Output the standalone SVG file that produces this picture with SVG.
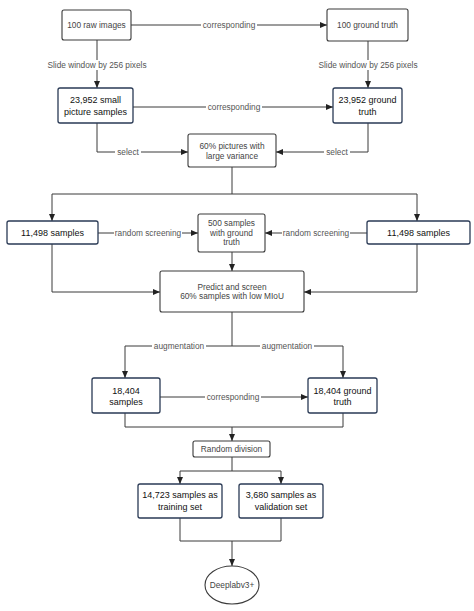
<svg xmlns="http://www.w3.org/2000/svg" width="474" height="611" viewBox="0 0 474 611">
<style>
.g{fill:#fff;stroke:#3a3a3a;stroke-width:1.1}
.b{fill:#fff;stroke:#2a3a55;stroke-width:1.3}
.gt{font-family:"Liberation Sans",Arial,sans-serif;font-size:8.3px;fill:#444;text-anchor:middle;dominant-baseline:central}
.bt{font-family:"Liberation Sans",Arial,sans-serif;font-size:9px;fill:#111;text-anchor:middle;dominant-baseline:central}
.c{fill:none;stroke:#3a3a3a;stroke-width:1}
.a{marker-end:url(#ah)}
.lb{fill:#fff}
.lt{font-family:"Liberation Sans",Arial,sans-serif;font-size:8.3px;fill:#555;text-anchor:middle;dominant-baseline:central}
</style>
<defs>
<marker id="ah" markerWidth="7" markerHeight="6" refX="7" refY="3" orient="auto" markerUnits="userSpaceOnUse">
<path d="M0,0 L7,3 L0,6 z" fill="#222"/>
</marker>
</defs>
<rect width="474" height="611" fill="#fff"/>
<g id="connectors">
<path class="c a" d="M131,25 H327"/>
<path class="c a" d="M97,40 V88"/>
<path class="c a" d="M368,41 V88"/>
<path class="c a" d="M133,107 H333"/>
<path class="c a" d="M97,123 V152 H188"/>
<path class="c a" d="M368,123 V152 H276"/>
<path class="c" d="M232,167 V194 M52,194 H417"/>
<path class="c a" d="M52,194 V221"/>
<path class="c a" d="M417,194 V221"/>
<path class="c a" d="M98,233 H198"/>
<path class="c a" d="M367,233 H265"/>
<path class="c a" d="M232,252 V271"/>
<path class="c a" d="M52,244 V292 H160"/>
<path class="c a" d="M417,244 V292 H304"/>
<path class="c" d="M232,312 V346 M125,346 H343"/>
<path class="c a" d="M125,346 V378"/>
<path class="c a" d="M343,346 V378"/>
<path class="c a" d="M160,397 H308"/>
<path class="c" d="M125,413 V427 H343 V413"/>
<path class="c a" d="M232,427 V441"/>
<path class="c" d="M232,457 V471 M180,471 H281"/>
<path class="c a" d="M180,471 V484"/>
<path class="c a" d="M281,471 V484"/>
<path class="c" d="M180,518 V541 H281 V518"/>
<path class="c a" d="M232,541 V566"/>
<rect class="lb" x="201" y="20" width="56" height="10"/><text class="lt" x="229" y="25">corresponding</text>
<rect class="lb" x="46" y="60" width="102" height="10"/><text class="lt" x="97" y="65">Slide window by 256 pixels</text>
<rect class="lb" x="317" y="60" width="102" height="10"/><text class="lt" x="368" y="65">Slide window by 256 pixels</text>
<rect class="lb" x="206" y="102" width="56" height="10"/><text class="lt" x="234" y="107">corresponding</text>
<rect class="lb" x="115" y="147" width="26" height="10"/><text class="lt" x="128" y="152">select</text>
<rect class="lb" x="324" y="147" width="26" height="10"/><text class="lt" x="337" y="152">select</text>
<rect class="lb" x="114" y="228" width="68" height="10"/><text class="lt" x="148" y="233">random screening</text>
<rect class="lb" x="282" y="228" width="68" height="10"/><text class="lt" x="316" y="233">random screening</text>
<rect class="lb" x="152" y="341" width="54" height="10"/><text class="lt" x="179" y="346">augmentation</text>
<rect class="lb" x="260" y="341" width="54" height="10"/><text class="lt" x="287" y="346">augmentation</text>
<rect class="lb" x="205" y="392" width="56" height="10"/><text class="lt" x="233" y="397">corresponding</text>
</g>
<g id="n1"><rect class="g" x="62" y="10" width="69" height="30" rx="2"/><text class="gt" x="96.5" y="25">100 raw images</text></g>
<g id="n2"><rect class="g" x="327" y="9" width="81" height="32" rx="2"/><text class="gt" x="367.5" y="25">100 ground truth</text></g>
<g id="n3"><rect class="b" x="58" y="88" width="75" height="35" rx="2"/><text class="bt" x="95.5" y="100">23,952 small</text><text class="bt" x="95.5" y="112">picture samples</text></g>
<g id="n4"><rect class="b" x="333" y="88" width="69" height="35" rx="2"/><text class="bt" x="367.5" y="100">23,952 ground</text><text class="bt" x="367.5" y="112">truth</text></g>
<g id="n5"><rect class="g" x="188" y="134" width="88" height="33" rx="2"/><text class="gt" x="232" y="146">60% pictures with</text><text class="gt" x="232" y="156">large variance</text></g>
<g id="n6"><rect class="b" x="7" y="221" width="91" height="23" rx="2"/><text class="bt" x="52.5" y="233">11,498 samples</text></g>
<g id="n7"><rect class="g" x="198" y="214" width="67" height="38" rx="2"/><text class="gt" x="231.5" y="223">500 samples</text><text class="gt" x="231.5" y="233">with ground</text><text class="gt" x="231.5" y="242">truth</text></g>
<g id="n8"><rect class="b" x="367" y="221" width="103" height="23" rx="2"/><text class="bt" x="418.5" y="233">11,498 samples</text></g>
<g id="n9"><rect class="g" x="160" y="271" width="144" height="41" rx="2"/><text class="gt" x="232" y="287">Predict and screen</text><text class="gt" x="232" y="296">60% samples with low MIoU</text></g>
<g id="n10"><rect class="b" x="92" y="378" width="68" height="35" rx="2"/><text class="bt" x="126" y="391">18,404</text><text class="bt" x="126" y="402">samples</text></g>
<g id="n11"><rect class="b" x="308" y="378" width="69" height="35" rx="2"/><text class="bt" x="342.5" y="391">18,404 ground</text><text class="bt" x="342.5" y="402">truth</text></g>
<g id="n12"><rect class="g" x="193" y="441" width="77" height="16" rx="2"/><text class="gt" x="231.5" y="449">Random division</text></g>
<g id="n13"><rect class="b" x="138" y="484" width="84" height="34" rx="2"/><text class="bt" x="180" y="495">14,723 samples as</text><text class="bt" x="180" y="507">training set</text></g>
<g id="n14"><rect class="b" x="239" y="484" width="84" height="34" rx="2"/><text class="bt" x="281" y="495">3,680 samples as</text><text class="bt" x="281" y="507">validation set</text></g>
<g id="n15"><ellipse class="g" cx="232" cy="585" rx="27" ry="19"/><text class="gt" x="232" y="585">Deeplabv3+</text></g>
</svg>
